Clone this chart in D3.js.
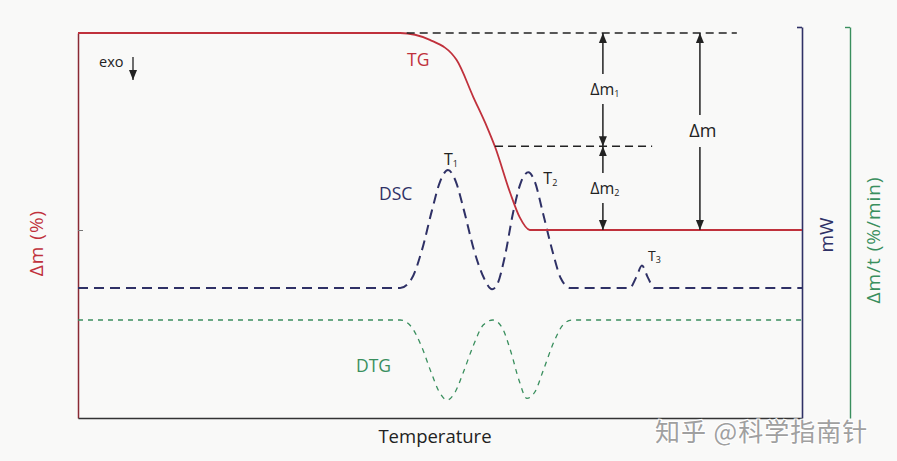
<!DOCTYPE html>
<html>
<head>
<meta charset="utf-8">
<title>TG / DSC / DTG</title>
<script src="https://d3js.org/d3.v7.min.js"></script>
<style>
html, body { margin: 0; padding: 0; background: #f9f9f8; }
svg { display: block; font-family: "Open Sans", "Noto Sans", sans-serif; }
</style>
</head>
<body>
<script>
// temperature in arbitrary units 0..100
const tgTemp = [0, 44.5, 48.6, 52.3, 54.6, 56.5, 57.6, 59.7, 61.0, 62.4, 100];
const tgMass = [100, 100, 98.6, 94.5, 87.0, 80.9, 76.9, 67.5, 62.6, 60, 60];

const dscTemp = [0, 44.5, 46.1, 47.5, 48.9, 50.0, 51.1, 52.2, 53.3, 54.7, 56.1, 57.2, 57.9, 59.0, 60.1, 61.2, 62.2, 63.1, 64.2, 65.5, 66.7, 68.0, 76.2, 77.1, 77.9, 78.7, 79.6, 100];
const dscVal  = [0, 0, 0.08, 0.32, 0.66, 0.90, 1.0, 0.90, 0.66, 0.32, 0.08, -0.01, 0.03, 0.28, 0.64, 0.90, 0.98, 0.90, 0.64, 0.32, 0.08, 0, 0, 0.09, 0.19, 0.09, 0, 0];

const dtgTemp = [0, 44.5, 46.0, 47.4, 48.8, 49.9, 51.0, 52.1, 53.2, 54.6, 56.0, 57.3, 58.6, 59.8, 60.9, 62.0, 63.1, 64.3, 65.7, 67.0, 68.2, 100];
const dtgVal  = [0, 0, -0.08, -0.32, -0.66, -0.90, -1.0, -0.90, -0.66, -0.32, -0.06, 0, -0.1, -0.4, -0.75, -0.98, -0.9, -0.62, -0.28, -0.06, 0, 0];

const massLevels = [100, 77, 60];         // TG plateaus used for the step arrows
const stepArrowTemp = 72.5, totalArrowTemp = 85.9;
const topGuideEnd = 91, midGuideEnd = 79.3;
const peaks = [
  {name: "T", sub: "1", t: 51.1, v: 1.0},
  {name: "T", sub: "2", t: 62.2, v: 0.98},
  {name: "T", sub: "3", t: 77.9, v: 0.19}
];

const W = 897, H = 461;
const red = "#c0313c", navy = "#2f3166", green = "#3a8f5e", ink = "#222";

const svg = d3.select("body").append("svg").attr("width", W).attr("height", H);

const x = d3.scaleLinear().domain([0, 100]).range([78, 802]);
const yTG = d3.scaleLinear().domain([60, 100]).range([230, 33]);
const yDSC = d3.scaleLinear().domain([0, 1]).range([288, 170]);
const yDTG = d3.scaleLinear().domain([0, -1]).range([320, 400]);

const defs = svg.append("defs");
defs.append("marker").attr("id", "ah").attr("viewBox", "0 0 10 10")
  .attr("refX", 10).attr("refY", 5).attr("markerWidth", 10).attr("markerHeight", 10)
  .attr("markerUnits", "userSpaceOnUse").attr("orient", "auto-start-reverse")
  .append("path").attr("d", "M0,1 L10,5 L0,9 Z").attr("fill", ink);

// axes
const leftScale = yTG.copy().domain([yTG.invert(418), 100]).range([418, 33]);
svg.append("g").attr("transform", "translate(78,0)")
  .call(d3.axisRight(leftScale).tickValues([60]).tickSize(5).tickSizeOuter(0).tickFormat(""))
  .call(g => g.select(".domain").attr("stroke", "#8a2a34").attr("stroke-width", 1.5))
  .call(g => g.selectAll(".tick line").attr("stroke", "#777"));

svg.append("g").attr("transform", "translate(0,418)")
  .call(d3.axisBottom(x).tickValues([]).tickSizeOuter(0))
  .call(g => g.select(".domain").attr("stroke", "#333").attr("stroke-width", 1.5));

const rightScale = yDSC.copy().domain([yDSC.invert(418), yDSC.invert(27)]).range([418, 27]);
svg.append("g").attr("transform", "translate(802,0)")
  .call(d3.axisLeft(rightScale).tickValues([rightScale.domain()[1]]).tickSize(5).tickSizeOuter(0).tickFormat(""))
  .call(g => g.selectAll("path,line").attr("stroke", navy).attr("stroke-width", 1.6));

const dtgAxisScale = yDTG.copy().domain([yDTG.invert(418), yDTG.invert(27)]).range([418, 27]);
svg.append("g").attr("transform", "translate(850,0)")
  .call(d3.axisLeft(dtgAxisScale).tickValues([dtgAxisScale.domain()[1]]).tickSize(5).tickSizeOuter(0).tickFormat(""))
  .call(g => g.selectAll("path,line").attr("stroke", green).attr("stroke-width", 1.4));

// curves
const zip = (a, b) => a.map((d, i) => [d, b[i]]);

svg.append("path").datum(zip(dtgTemp, dtgVal))
  .attr("d", d3.line().x(d => x(d[0])).y(d => yDTG(d[1])).curve(d3.curveMonotoneX))
  .attr("fill", "none").attr("stroke", green).attr("stroke-width", 1.3).attr("stroke-dasharray", "5,5");

svg.append("path").datum(zip(dscTemp, dscVal))
  .attr("d", d3.line().x(d => x(d[0])).y(d => yDSC(d[1])).curve(d3.curveMonotoneX))
  .attr("fill", "none").attr("stroke", navy).attr("stroke-width", 2).attr("stroke-dasharray", "10,6");

svg.append("path").datum(zip(tgTemp, tgMass))
  .attr("d", d3.line().x(d => x(d[0])).y(d => yTG(d[1])).curve(d3.curveMonotoneX))
  .attr("fill", "none").attr("stroke", red).attr("stroke-width", 1.8);

// guide lines
svg.append("line").attr("x1", x(45.4)).attr("x2", x(topGuideEnd))
  .attr("y1", yTG(massLevels[0])).attr("y2", yTG(massLevels[0]))
  .attr("stroke", ink).attr("stroke-width", 1.5).attr("stroke-dasharray", "8,5");
svg.append("line").attr("x1", x(57.6)).attr("x2", x(midGuideEnd))
  .attr("y1", yTG(massLevels[1])).attr("y2", yTG(massLevels[1]))
  .attr("stroke", ink).attr("stroke-width", 1.5).attr("stroke-dasharray", "8,5");

// arrows with a gap for the label
function arrow(t, m0, m1, gapTop, gapBot) {
  const xp = x(t);
  svg.append("line").attr("x1", xp).attr("x2", xp).attr("y1", gapTop).attr("y2", yTG(m0))
    .attr("stroke", ink).attr("stroke-width", 1.5).attr("marker-end", "url(#ah)");
  svg.append("line").attr("x1", xp).attr("x2", xp).attr("y1", gapBot).attr("y2", yTG(m1))
    .attr("stroke", ink).attr("stroke-width", 1.5).attr("marker-end", "url(#ah)");
}
arrow(stepArrowTemp, massLevels[0], massLevels[1], 74, 104);
arrow(stepArrowTemp, massLevels[1], massLevels[2], 173, 203);
arrow(totalArrowTemp, massLevels[0], massLevels[2], 115, 147);

function dmLabel(xp, yp, sub) {
  const t = svg.append("text").attr("x", xp).attr("y", yp).attr("text-anchor", "middle")
    .attr("fill", ink).attr("font-size", sub ? 16 : 18).text("Δm");
  if (sub) t.append("tspan").attr("font-size", 9).attr("dy", 2).text(sub);
}
dmLabel(x(stepArrowTemp) + 2, 95, "1");
dmLabel(x(stepArrowTemp) + 2, 194, "2");
dmLabel(x(totalArrowTemp) + 3, 137, null);

// peak labels
const peakOffsets = [[-4, -5], [15, 12], [6, -5]];
peaks.forEach((p, i) => {
  const t = svg.append("text").attr("x", x(p.t) + peakOffsets[i][0]).attr("y", yDSC(p.v) + peakOffsets[i][1])
    .attr("fill", ink).attr("font-size", i === 2 ? 14 : 16).text(p.name);
  t.append("tspan").attr("font-size", 9).attr("dy", 2).text(p.sub);
});

// series labels
svg.append("text").attr("x", 407).attr("y", 66).attr("fill", red).attr("font-size", 17.5).text("TG");
svg.append("text").attr("x", 379).attr("y", 200).attr("fill", navy).attr("font-size", 17.5).text("DSC");
svg.append("text").attr("x", 356).attr("y", 372).attr("fill", green).attr("font-size", 17.5).text("DTG");

// exo marker
svg.append("text").attr("x", 99).attr("y", 67).attr("fill", ink).attr("font-size", 14.5).text("exo");
svg.append("line").attr("x1", 133).attr("x2", 133).attr("y1", 57).attr("y2", 80)
  .attr("stroke", ink).attr("stroke-width", 1.3).attr("marker-end", "url(#ah)");

// axis titles
svg.append("text").attr("x", 435).attr("y", 443).attr("text-anchor", "middle")
  .attr("fill", ink).attr("font-size", 18.5).text("Temperature");
svg.append("text").attr("transform", "translate(43,243) rotate(-90)").attr("text-anchor", "middle")
  .attr("fill", red).attr("font-size", 19).attr("letter-spacing", 1).text("Δm (%)");
svg.append("text").attr("transform", "translate(833,235) rotate(-90)").attr("text-anchor", "middle")
  .attr("fill", navy).attr("font-size", 19).text("mW");
svg.append("text").attr("transform", "translate(880,240) rotate(-90)").attr("text-anchor", "middle")
  .attr("fill", green).attr("font-size", 19).attr("letter-spacing", 1).text("Δm/t (%/min)");

// watermark
svg.append("text").attr("x", 655).attr("y", 441)
  .attr("font-family", "'Noto Sans CJK SC', sans-serif").attr("font-size", 25).attr("letter-spacing", 1)
  .attr("fill", "#a0a0a0").attr("stroke", "#fff").attr("stroke-width", 2).attr("paint-order", "stroke")
  .text("知乎 @科学指南针");
</script>
</body>
</html>
